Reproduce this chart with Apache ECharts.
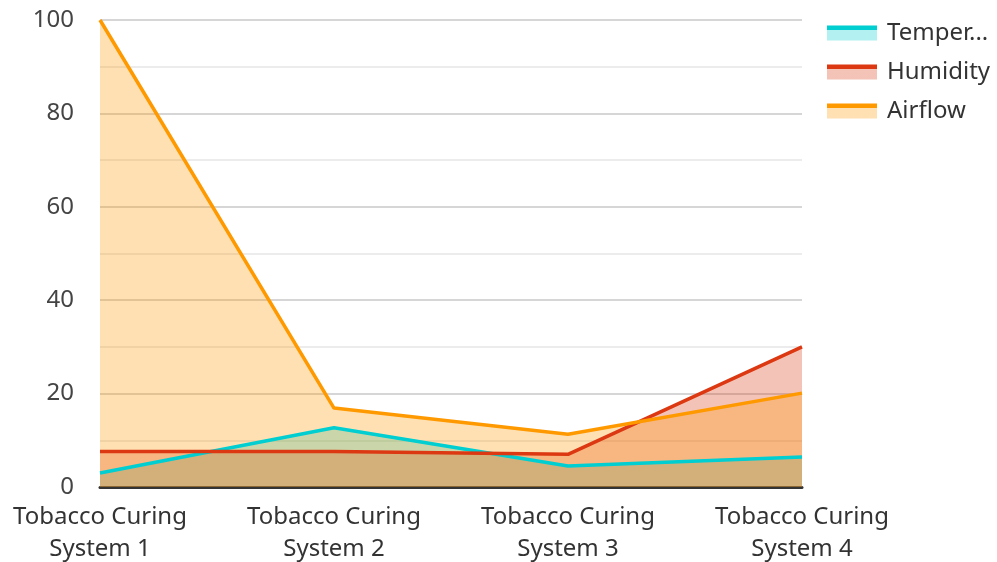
<!DOCTYPE html>
<html>
<head>
<meta charset="utf-8">
<script src="https://cdn.jsdelivr.net/npm/echarts@6/dist/echarts.min.js"></script>
<style>html,body{margin:0;padding:0;background:#fff}#c{width:997px;height:562px}</style>
</head>
<body>
<div id="c"></div>
<script>
const categories = ['Tobacco Curing\nSystem 1', 'Tobacco Curing\nSystem 2', 'Tobacco Curing\nSystem 3', 'Tobacco Curing\nSystem 4'];
const seriesNames = ['Temperature', 'Humidity', 'Airflow'];
const temperature = [3.0, 12.7, 4.5, 6.4];
const humidity = [7.6, 7.6, 7.0, 30.0];
const airflow = [100, 16.9, 11.3, 20.1];
const colors = ['#00CED1', '#DC3912', '#FF9900'];

const chart = echarts.init(document.getElementById('c'), null, {renderer: 'canvas'});
const font = 'Noto Sans';
const fade = (hex, a) => {
  const n = parseInt(hex.slice(1), 16);
  return `rgba(${n >> 16},${(n >> 8) & 255},${n & 255},${a})`;
};
const mk = (name, data, color) => ({
  name, type: 'line', data, symbol: 'none',
  lineStyle: {width: 3.5, color},
  itemStyle: {color},
  areaStyle: {color, opacity: 0.3}
});
chart.setOption({
  animation: false,
  color: colors,
  grid: {left: 100, right: 195, top: 20, bottom: 75, containLabel: false, outerBoundsMode: 'none'},
  legend: {
    orient: 'vertical', left: 822, top: 16, itemWidth: 50, itemHeight: 15, itemGap: 15,
    icon: 'rect',
    data: seriesNames.map((n, i) => ({
      name: n,
      itemStyle: {
        color: new echarts.graphic.LinearGradient(0, 0, 0, 1, [
          {offset: 0, color: colors[i]}, {offset: 0.28, color: colors[i]},
          {offset: 0.28, color: fade(colors[i], 0.3)}, {offset: 1, color: fade(colors[i], 0.3)}
        ])
      },
      lineStyle: {opacity: 0}
    })),
    textStyle: {fontFamily: font, fontSize: 24, color: '#333', width: 118, overflow: 'truncate', padding: [0, 0, 0, 5]}
  },
  xAxis: {
    type: 'category', data: categories, boundaryGap: false,
    axisLine: {lineStyle: {color: '#333', width: 3}},
    axisTick: {show: false},
    axisLabel: {fontFamily: font, fontSize: 24, color: '#333', lineHeight: 32, margin: 14, interval: 0}
  },
  yAxis: {
    type: 'value', min: 0, max: 100, interval: 20,
    axisLine: {show: false}, axisTick: {show: false},
    axisLabel: {fontFamily: font, fontSize: 24, color: '#444', margin: 26},
    splitLine: {lineStyle: {color: '#c8c8c8', width: 1.5}},
    minorTick: {show: false, splitNumber: 2},
    minorSplitLine: {show: true, lineStyle: {color: '#e6e6e6', width: 1.5}}
  },
  series: [mk(seriesNames[0], temperature, colors[0]), mk(seriesNames[1], humidity, colors[1]), mk(seriesNames[2], airflow, colors[2])]
});
</script>
</body>
</html>
